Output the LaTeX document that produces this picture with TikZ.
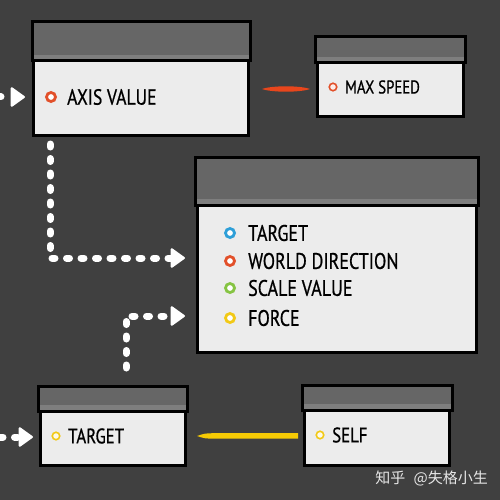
\documentclass[tikz,border=0pt]{standalone}
\usepackage{fontspec}
\newfontfamily\hand[FakeStretch=0.8,FakeBold=0.7]{PT Sans}
\newfontfamily\cjk{Noto Sans CJK SC}
\usetikzlibrary{arrows.meta,calc}
\definecolor{bg}{HTML}{404040}
\definecolor{headc}{HTML}{666666}
\definecolor{headlo}{HTML}{7E7E7E}
\definecolor{bodyc}{HTML}{ECECEC}
\definecolor{ringblue}{HTML}{2E9FD8}
\definecolor{ringoran}{HTML}{E2502A}
\definecolor{ringgreen}{HTML}{86C443}
\definecolor{ringyell}{HTML}{F2C916}
\definecolor{linkoran}{HTML}{E8461C}
\definecolor{linkyell}{HTML}{F6CB05}
\definecolor{wmc}{HTML}{E6E6E6}
\tikzset{
  boxbody/.style={draw=black, line width=3pt, fill=bodyc, anchor=north west, inner sep=0pt, outer sep=0pt},
  boxhead/.style={draw=black, line width=3pt, fill=headc, anchor=north west, inner sep=0pt, outer sep=0pt,
    path picture={\fill[headlo] ([yshift=6pt]path picture bounding box.south west) rectangle (path picture bounding box.south east);}},
  ringbig/.style={circle, draw=#1, line width=2.8pt, fill=white, minimum size=9pt, inner sep=0pt},
  ringsmall/.style={circle, draw=#1, line width=1.6pt, fill=white!90!#1, minimum size=7.5pt, inner sep=0pt},
  lbl/.style={anchor=west, inner sep=0pt, text=black},
  dotline/.style={draw=white, line width=7pt, line cap=round, dash pattern=on 3pt off 11.5pt,
    -{Triangle[width=21pt,length=15pt,round,line width=2pt]}},
}
\begin{document}
\begin{tikzpicture}[x=1pt,y=-1pt]
\useasboundingbox[fill=bg] (0,0) rectangle (500,500);

% box 1
\node[boxbody, minimum width=215pt, minimum height=74pt] (b1) at (33,61) {};
\node[boxhead, minimum width=218pt, minimum height=39pt] (h1) at (32,22) {};
\node[ringbig=ringoran] (r1) at (51,97) {};
\node[lbl, font=\hand\fontsize{22}{22}\selectfont] (t1) at (67,97) {AXIS VALUE};

% box 2
\node[boxbody, minimum width=146pt, minimum height=54pt] (b2) at (317,63) {};
\node[boxhead, minimum width=150pt, minimum height=26pt] (h2) at (315,37) {};
\node[ringsmall=ringoran] (r2) at (333,87) {};
\node[lbl, font=\hand\fontsize{18.5}{18.5}\selectfont] (t2) at (345,87) {MAX SPEED};

% box 3
\node[boxbody, minimum width=279pt, minimum height=147pt] (b3) at (197,205) {};
\node[boxhead, minimum width=283pt, minimum height=48pt] (h3) at (195,157) {};
\node[ringbig=ringblue] (r3a) at (230,233) {};
\node[ringbig=ringoran] (r3b) at (230,261) {};
\node[ringbig=ringgreen] (r3c) at (230,288) {};
\node[ringbig=ringyell] (r3d) at (230,318) {};
\node[lbl, font=\hand\fontsize{22.5}{22.5}\selectfont] (t3a) at (248,233) {TARGET};
\node[lbl, font=\hand\fontsize{22.5}{22.5}\selectfont] (t3b) at (248,261) {WORLD DIRECTION};
\node[lbl, font=\hand\fontsize{22.5}{22.5}\selectfont] (t3c) at (248,288) {SCALE VALUE};
\node[lbl, font=\hand\fontsize{22.5}{22.5}\selectfont] (t3d) at (248,318) {FORCE};

% box 4
\node[boxbody, minimum width=145pt, minimum height=54pt] (b4) at (40,411) {};
\node[boxhead, minimum width=149pt, minimum height=25pt] (h4) at (38,386) {};
\node[ringsmall=ringyell] (r4) at (56,436) {};
\node[lbl, font=\hand\fontsize{21}{21}\selectfont] (t4) at (68,436) {TARGET};

% box 5
\node[boxbody, minimum width=145pt, minimum height=55pt] (b5) at (304,410) {};
\node[boxhead, minimum width=150pt, minimum height=25pt] (h5) at (302,385) {};
\node[ringsmall=ringyell] (r5) at (320,435) {};
\node[lbl, font=\hand\fontsize{21}{21}\selectfont] (t5) at (332,435) {SELF};

% dotted connectors
\coordinate (c1s) at ($(b1.south west)+(17,9)$);
\coordinate (c1t) at ($(b3.north west)+(-12,53)$);
\draw[dotline] (c1s) |- (c1t);
\coordinate (c2s) at ($(h4.north west)+(88,-18)$);
\coordinate (c2t) at ($(b3.north west)+(-12,111)$);
\draw[dotline] (c2s) |- (c2t);
\coordinate (in1) at (-2,97);
\draw[dotline] (in1) -- ($(b1.west)+(-8,-1)$);
\coordinate (in4) at (0,437);
\draw[dotline] (in4) -- ($(b4.west)+(-7,-1)$);

% coloured links
\fill[linkoran] ($(b1.east|-b2.west)+(14,-1)$) .. controls +(10,-3.6) and +(-10,-3.6) .. ($(b2.west)+(-7,-1)$)
   .. controls +(-10,3.6) and +(10,3.6) .. ($(b1.east|-b2.west)+(14,-1)$) -- cycle;
\fill[linkyell] ($(b4.east)+(12,-2)$) .. controls +(8,-2.7) .. ($(b4.east)+(30,-4.8)$) -- ($(b5.west)+(-6,-4.3)$)
   -- ($(b5.west)+(-6,1)$) -- ($(b4.east)+(30,0.6)$) .. controls +(-10,0) .. ($(b4.east)+(12,-2)$) -- cycle;

% watermark
\node[anchor=east, inner sep=0pt, text=wmc, font=\cjk\fontsize{15}{15}\selectfont] (wm) at (488,478) {知乎\hspace{5pt} @失格小生};
\end{tikzpicture}
\end{document}
